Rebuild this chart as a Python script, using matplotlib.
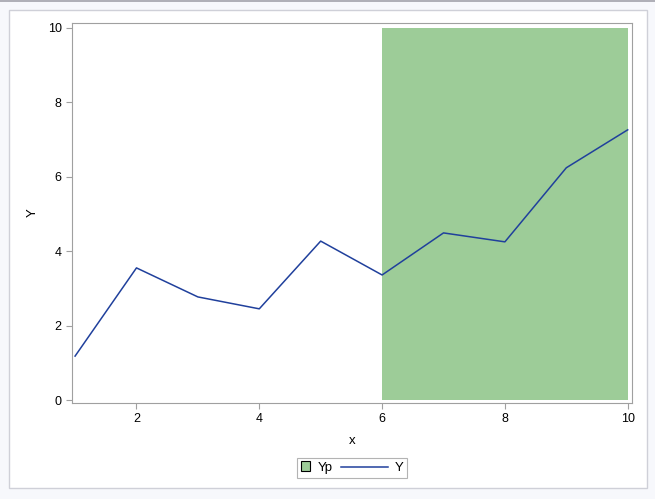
import matplotlib
matplotlib.use("Agg")
import matplotlib.pyplot as plt
from matplotlib.patches import Rectangle, Patch
from matplotlib.lines import Line2D

plt.rcParams['font.family'] = ['Liberation Sans', 'DejaVu Sans']

# data
x = [1, 2, 3, 4, 5, 6, 7, 8, 9, 10]
y = [1.18, 3.55, 2.77, 2.45, 4.27, 3.36, 4.49, 4.25, 6.24, 7.26]
band_x = [6, 10]
band_lo = [0, 0]
band_hi = [10, 10]
xticks = [2, 4, 6, 8, 10]
yticks = [0, 2, 4, 6, 8, 10]

band_color = '#9dcc98'
line_color = '#20409c'


class SquareHandler:
    # small square swatch, narrower than the line swatch
    def legend_artist(self, legend, orig_handle, fontsize, handlebox):
        handlebox.width = 7.5
        r = Rectangle((0, 0), 7, 7, facecolor=band_color, edgecolor='black',
                      lw=0.8, transform=handlebox.get_transform())
        handlebox.add_artist(r)
        return r


fig = plt.figure(figsize=(6.55, 4.99), dpi=100)
fig.patch.set_facecolor('#f7f8fc')
# white panel with thin border
fig.patches.append(Rectangle((9/655, 11/499), 638/655, 478/499, transform=fig.transFigure,
                             facecolor='white', edgecolor='#cfd0d8', lw=1, zorder=-5))
fig.patches.append(Rectangle((0, 497/499), 1, 2/499, transform=fig.transFigure,
                             facecolor='#b0b0b8', edgecolor='none', zorder=-5))

ax = fig.add_axes([72/655, 96/499, 560/655, 380/499])
ax.fill_between(band_x, band_lo, band_hi, color=band_color, lw=0)
ax.plot(x, y, color=line_color, lw=1.1)

ax.set_xlim(0.95, 10.07)
ax.set_ylim(-0.08, 10.13)
ax.set_xticks(xticks)
ax.set_yticks(yticks)
for s in ax.spines.values():
    s.set_color('#a0a0a0')
ax.tick_params(colors='#a0a0a0', labelcolor='black', labelsize=9, length=4)
ax.set_xlabel('x', fontsize=9.5, labelpad=7)
ax.set_ylabel('Y', fontsize=9.5, labelpad=6)

yp_handle = Patch(label='Yp')
y_handle = Line2D([0], [0], color=line_color, lw=1.1, label='Y')
leg = fig.legend(handles=[yp_handle, y_handle], loc='center',
                 bbox_to_anchor=(352/655, (499-468)/499),
                 handler_map={Patch: SquareHandler()},
                 ncol=2, fontsize=9.5, frameon=True, fancybox=False,
                 handlelength=3.6, columnspacing=0.6, borderpad=0.3,
                 handletextpad=0.5, borderaxespad=0)
leg.get_frame().set_edgecolor('#a0a0a0')
leg.get_frame().set_linewidth(0.8)

fig.savefig('out.png', dpi=100, facecolor=fig.get_facecolor())
